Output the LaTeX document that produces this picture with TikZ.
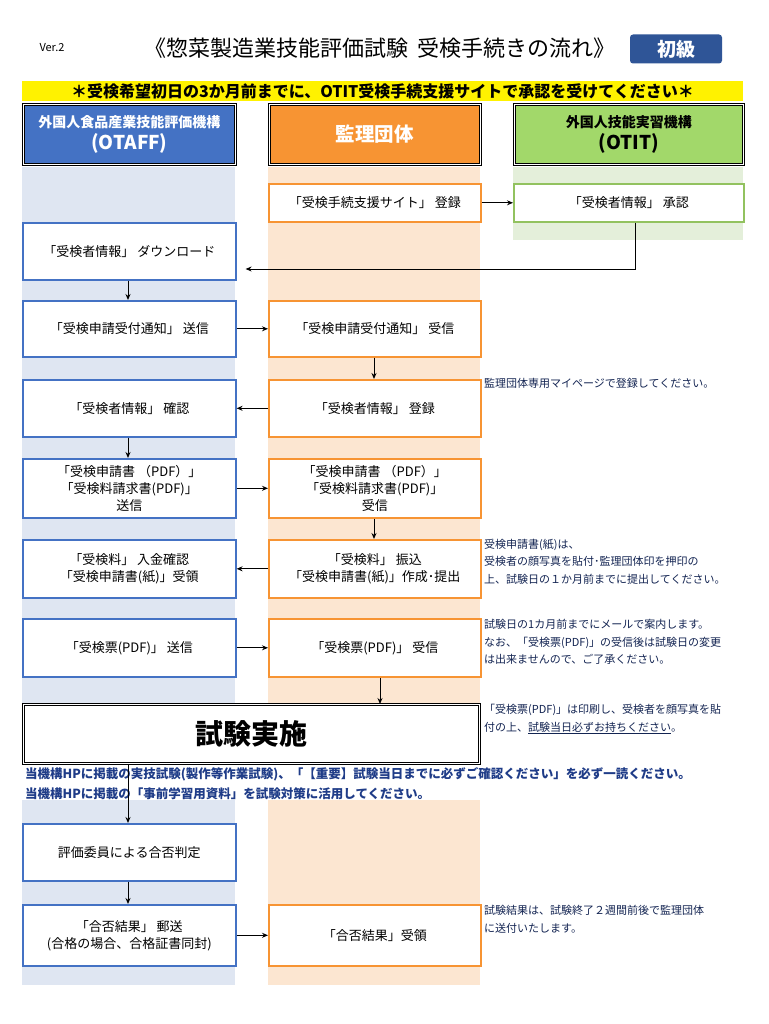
\documentclass[tikz,border=0pt]{standalone}
\usepackage{fontspec}
\setmainfont{Noto Sans CJK JP}
\usetikzlibrary{arrows.meta}
\definecolor{cblue}{HTML}{4472C4}
\definecolor{corange}{HTML}{F79433}
\definecolor{cgreen}{HTML}{A2D86A}
\definecolor{lblue}{HTML}{DFE6F2}
\definecolor{lorange}{HTML}{FCE6D1}
\definecolor{lgreen}{HTML}{E4EFDA}
\definecolor{navy}{HTML}{2F5597}
\definecolor{ntext}{HTML}{1F3C88}
\begin{document}
\begin{tikzpicture}[x=1pt,y=-1pt,
 bx/.style={draw,line width=1.6pt,fill=white,align=center,font=\fontsize{13}{17}\selectfont,anchor=north west,inner sep=0pt},
 lb/.style={bx,draw=cblue,minimum width=213pt},
 mb/.style={bx,draw=corange,minimum width=212pt},
 rb/.style={bx,draw=cgreen!90!black,minimum width=230pt},
 hd/.style={draw=black,double,double distance=1.2pt,line width=0.8pt,anchor=north west,align=center,minimum height=60pt,inner sep=0pt},
 ar/.style={-{Stealth[length=6pt,width=5pt]},line width=1pt},
 note/.style={anchor=north west,align=left,font=\fontsize{11}{17.5}\selectfont,text=ntext!60!black,inner sep=0pt}]
\useasboundingbox (0,0) rectangle (768,1024);
\fill[white] (0,0) rectangle (768,1024);
% column backgrounds
\fill[lblue] (22,167) rectangle (235,705);
\fill[lorange] (268,167) rectangle (480,705);
\fill[lgreen] (513,167) rectangle (743,240);
\fill[lblue] (22,800) rectangle (235,985);
\fill[lorange] (268,800) rectangle (480,985);
% title
\node (ver) at (52,48) {\fontsize{11}{12}\selectfont Ver.2};
\node (title) at (380,48) {\fontsize{22}{24}\selectfont 《惣菜製造業技能評価試験\ \ 受検手続きの流れ》};
\node[fill=navy,rounded corners=3pt,minimum width=92pt,minimum height=29pt,text=white,font=\fontsize{19}{20}\selectfont\bfseries] (lvl) at (676,49) {初級};
\node[fill=yellow,minimum width=721pt,minimum height=20pt,inner sep=0pt,font=\fontsize{16}{17}\selectfont\bfseries] (ban) at (382.5,91) {＊受検希望初日の3か月前までに、OTIT受検手続支援サイトで承認を受けてください＊};
% headers
\node[hd,fill=cblue,text=white,minimum width=212pt] (h1) at (23,104) {{\fontsize{14}{16}\selectfont\bfseries 外国人食品産業技能評価機構}\\[4pt]{\fontsize{19}{21}\selectfont\bfseries (OTAFF)}};
\node[hd,fill=corange,text=white,minimum width=211pt] (h2) at (269,104) {\fontsize{19.5}{22}\selectfont\bfseries 監理団体};
\node[hd,fill=cgreen,text=black,minimum width=229pt] (h3) at (514,104) {{\fontsize{14}{16}\selectfont\bfseries 外国人技能実習機構}\\[4pt]{\fontsize{19}{21}\selectfont\bfseries (OTIT)}};
% boxes
\node[mb,minimum height=38pt] (m1) at (268,183) {「受検手続支援サイト」 登録};
\node[rb,minimum height=38pt] (r1) at (513,183) {「受検者情報」 承認};
\node[lb,minimum height=57pt] (l1) at (22,222) {「受検者情報」 ダウンロード};
\node[lb,minimum height=56pt] (l2) at (22,300) {「受検申請受付通知」 送信};
\node[mb,minimum height=56pt] (m2) at (268,300) {「受検申請受付通知」 受信};
\node[lb,minimum height=57pt] (l3) at (22,379) {「受検者情報」 確認};
\node[mb,minimum height=57pt] (m3) at (268,379) {「受検者情報」 登録};
\node[lb,minimum height=59pt] (l4) at (22,458) {「受検申請書 （PDF）」\\「受検料請求書(PDF)」\\送信};
\node[mb,minimum height=59pt] (m4) at (268,458) {「受検申請書 （PDF）」\\「受検料請求書(PDF)」\\受信};
\node[lb,minimum height=58pt] (l5) at (22,539) {「受検料」 入金確認\\「受検申請書(紙)」受領};
\node[mb,minimum height=58pt] (m5) at (268,539) {「受検料」 振込\\「受検申請書(紙)」作成･提出};
\node[lb,minimum height=58pt] (l6) at (22,618) {「受検票(PDF)」 送信};
\node[mb,minimum height=58pt] (m6) at (268,618) {「受検票(PDF)」 受信};
\node[hd,fill=white,minimum width=456pt,minimum height=59pt,font=\fontsize{28}{30}\selectfont\bfseries] (ex) at (23,704) {試験実施};
\node[lb,minimum height=57pt] (l7) at (22,823) {評価委員による合否判定};
\node[lb,minimum height=61pt] (l8) at (22,904) {「合否結果」 郵送\\(合格の場合、合格証書同封)};
\node[mb,minimum height=61pt] (m8) at (268,904) {「合否結果」受領};
% blue texts
\node[anchor=west,inner sep=0pt,text=ntext,font=\fontsize{12.5}{14}\selectfont\bfseries] (t1) at (25,774) {当機構HPに掲載の実技試験(製作等作業試験)、「【重要】試験当日までに必ずご確認ください」を必ず一読ください。};
\node[anchor=west,inner sep=0pt,text=ntext,font=\fontsize{12.5}{14}\selectfont\bfseries] (t2) at (25,794) {当機構HPに掲載の「事前学習用資料」を試験対策に活用してください。};
% notes
\node[note] (n1) at (484,378) {監理団体専用マイページで登録してください。};
\node[note] (n2) at (484,539) {受検申請書(紙)は、\\受検者の顔写真を貼付･監理団体印を押印の\\上、試験日の１か月前までに提出してください。};
\node[note] (n3) at (484,619) {試験日の1カ月前までにメールで案内します。\\なお、「受検票(PDF)」の受信後は試験日の変更\\は出来ませんので、ご了承ください。};
\node[note] (n4) at (484,704) {「受検票(PDF)」は印刷し、受検者を顔写真を貼\\付の上、\underline{試験当日必ずお持ちください}。};
\node[note] (n5) at (484,905) {試験結果は、試験終了２週間前後で監理団体\\に送付いたします。};
% arrows
\coordinate (bend) at (635,269);
\draw[ar,shorten >=9pt] (r1.south -| bend) -- (bend) -- (l1.east |- bend);
\draw[ar] (l1.south -| 128,0) -- (l2.north -| 128,0);
\draw[ar] (l2.east) -- (m2.west);
\draw[ar] (m2.south -| 374,0) -- (m3.north -| 374,0);
\draw[ar] (m3.west) -- (l3.east);
\draw[ar] (l3.south -| 128,0) -- (l4.north -| 128,0);
\draw[ar] (l4.east) -- (m4.west);
\draw[ar] (m4.south -| 374,0) -- (m5.north -| 374,0);
\draw[ar] (m5.west) -- (l5.east);
\draw[ar] (l6.east) -- (m6.west);
\draw[ar] (m6.south -| 380,0) -- (ex.north -| 380,0);
\draw[ar] (ex.south -| 128,0) -- (l7.north -| 128,0);
\draw[ar] (l7.south -| 128,0) -- (l8.north -| 128,0);
\draw[ar] (l8.east) -- (m8.west);
\draw[ar] (m1.east) -- (r1.west);
\end{tikzpicture}
\end{document}
